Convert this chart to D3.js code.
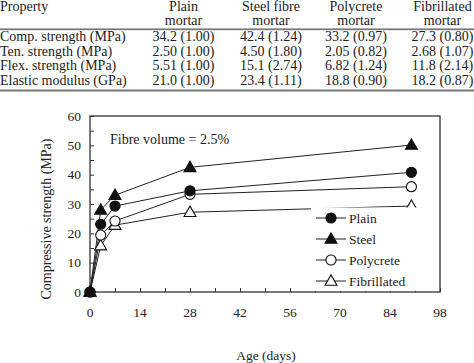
<!DOCTYPE html>
<html>
<head>
<meta charset="utf-8">
<script src="https://cdn.jsdelivr.net/npm/d3@7"></script>
<style>
  body { margin: 0; background: #fff; }
</style>
</head>
<body>
<div id="chart"></div>
<script>
// ---------------- data ----------------
let tableHeader1 = ['Property', 'Plain', 'Steel fibre', 'Polycrete', 'Fibrillated']
let tableHeader2 = ['', 'mortar', 'mortar', 'mortar', 'mortar']
let tableProps = ['Comp. strength (MPa)', 'Ten. strength (MPa)', 'Flex. strength (MPa)', 'Elastic modulus (GPa)']
let tableValues = [
  ['34.2 (1.00)', '42.4 (1.24)', '33.2 (0.97)', '27.3 (0.80)'],
  ['2.50 (1.00)', '4.50 (1.80)', '2.05 (0.82)', '2.68 (1.07)'],
  ['5.51 (1.00)', '15.1 (2.74)', '6.82 (1.24)', '11.8 (2.14)'],
  ['21.0 (1.00)', '23.4 (1.11)', '18.8 (0.90)', '18.2 (0.87)']
]

let ages = [0, 3, 7, 28, 90]
let plain = [0, 23.1, 29.3, 34.5, 40.8]
let steel = [0, 28.0, 33.0, 42.5, 50.1]
let polycrete = [0, 19.4, 24.2, 33.3, 35.9]
let fibrillated = [0, 15.8, 22.8, 27.2, 29.3]
let xTicks = [0, 14, 28, 42, 56, 70, 84, 98]
let yTicks = [0, 10, 20, 30, 40, 50, 60]

let series = [
  {name: 'Plain', values: plain, shape: 'circle', fill: '#111'},
  {name: 'Steel', values: steel, shape: 'triangle', fill: '#111'},
  {name: 'Polycrete', values: polycrete, shape: 'circle', fill: '#fff'},
  {name: 'Fibrillated', values: fibrillated, shape: 'triangle', fill: '#fff'}
]

let w = 474, h = 363
let serif = '"Liberation Serif", "Times New Roman", "DejaVu Serif", serif'
let svg = d3.select('#chart').append('svg').attr('width', w).attr('height', h)
  .attr('font-family', serif)

function txt(t, xx, yy, size, anchor) {
  return svg.append('text').text(t)
    .attr('x', xx).attr('y', yy)
    .attr('text-anchor', anchor || 'start')
    .attr('font-family', serif)
    .attr('font-size', size)
    .attr('fill', '#222')
}

// ---------------- table ----------------
let colX = [0, 183.5, 271, 356, 442.5]
let fs = 14
function tcell(t, i, y) {
  txt(t, colX[i], y, fs, i === 0 ? 'start' : 'middle')
}
tableHeader1.forEach((t, i) => tcell(t, i, 11))
tableHeader2.forEach((t, i) => tcell(t, i, 25))
svg.append('rect').attr('x', 0).attr('y', 28.4).attr('width', w).attr('height', 1.8).attr('fill', '#777')
tableProps.forEach((p, r) => {
  let y = 40.7 + r * 14.8
  tcell(p, 0, y)
  tableValues[r].forEach((v, c) => tcell(v, c + 1, y))
})
svg.append('rect').attr('x', 0).attr('y', 89.5).attr('width', w).attr('height', 2).attr('fill', '#777')

// ---------------- chart ----------------
let x = d3.scaleLinear().domain([0, 98]).range([90, 440])
let y = d3.scaleLinear().domain([0, 60]).range([292, 116])

let xAxis = d3.axisBottom(x).tickValues(d3.range(0, 99, 7)).tickSize(-4).tickFormat('')
svg.append('g').attr('transform', 'translate(0,' + y(0) + ')').call(xAxis)
let yAxis = d3.axisLeft(y).tickValues(d3.range(0, 61, 5)).tickSize(-4).tickFormat('')
svg.append('g').attr('transform', 'translate(' + x(0) + ',0)').call(yAxis)
svg.selectAll('.domain').remove()
svg.selectAll('.tick line').attr('stroke', '#333').attr('stroke-width', 1)

svg.append('rect')
  .attr('x', x(0)).attr('y', y(60))
  .attr('width', x(98) - x(0)).attr('height', y(0) - y(60))
  .attr('fill', 'none').attr('stroke', '#333').attr('stroke-width', 1.3)

xTicks.forEach(t => txt(t, x(t), 317, 13.5, 'middle'))
yTicks.forEach(t => txt(t, 81, y(t) + 4.5, 13.5, 'end'))

txt('Age (days)', 266, 360, 13.5, 'middle')
txt('Compressive strength (MPa)', 0, 0, 14, 'middle')
  .attr('transform', 'translate(51,219) rotate(-90)')
txt('Fibre volume = 2.5%', 110, 144, 14)

let line = d3.line().x((d, i) => x(ages[i])).y(d => y(d))
let tri = d3.symbol().type(d3.symbolTriangle).size(62)
let circ = d3.symbol().type(d3.symbolCircle).size(80)

function marker(g, s, cx, cy) {
  g.append('path')
    .attr('d', s.shape === 'circle' ? circ : tri)
    .attr('transform', 'translate(' + cx + ',' + (cy + (s.shape === 'triangle' ? 0.8 : 0)) + ')')
    .attr('fill', s.fill).attr('stroke', '#111').attr('stroke-width', 1.1)
}

series.forEach(s => {
  svg.append('path').datum(s.values).attr('d', line)
    .attr('fill', 'none').attr('stroke', '#222').attr('stroke-width', 1)
})
// markers, last series drawn first
series.slice().reverse().forEach(s => {
  let g = svg.append('g')
  s.values.forEach((v, i) => marker(g, s, x(ages[i]), y(v)))
})

// legend box sits over the lines
let lg = svg.append('g')
lg.append('rect').attr('x', 311).attr('y', 207.5).attr('width', 127.5).attr('height', 83.5).attr('fill', '#fff')
series.forEach((s, i) => {
  let ly = 218 + i * 21
  lg.append('line').attr('x1', 316).attr('x2', 346).attr('y1', ly).attr('y2', ly)
    .attr('stroke', '#222').attr('stroke-width', 1)
  marker(lg, s, 331, ly)
  lg.append('text').text(s.name).attr('x', 349).attr('y', ly + 4.5)
    .attr('font-family', serif).attr('font-size', 13.5).attr('fill', '#222')
})
</script>
</body>
</html>
